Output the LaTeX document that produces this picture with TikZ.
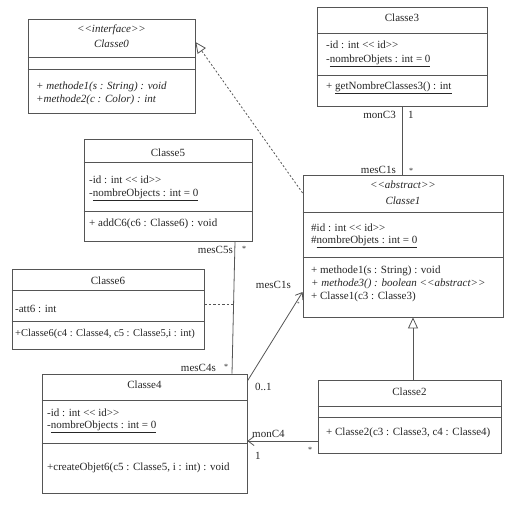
\documentclass[tikz,border=0pt]{standalone}
\usepackage{fontspec}
\setmainfont{Liberation Serif}
\usetikzlibrary{positioning,calc,arrows.meta}
\definecolor{lgray}{HTML}{555555}
\definecolor{tgray}{HTML}{262626}

\begin{document}
\begin{tikzpicture}
	[   x=1pt,y=-1pt,
	    cbox/.style={draw=lgray,line width=0.8pt,rectangle,inner sep=0pt,fill=white},
	    ctxt/.style={inner sep=0pt,text=tgray,font=\fontsize{11}{12}\selectfont},
	    itxt/.style={ctxt,font=\fontsize{11}{12}\selectfont\itshape},
	    small/.style={ctxt,font=\fontsize{10.5}{12}\selectfont},
	]
	\tikzset{normal line/.style={draw=lgray,line width=0.8pt}}
	\tikzset{inherit/.style={normal line,-{Triangle[open,length=11pt,width=10pt]}}}
	\tikzset{assoc/.style={normal line,-{Straight Barb[length=6pt,width=9pt]}}}
	\useasboundingbox (0,0) rectangle (523,505);

	% Classe0
	\node[cbox,minimum width=167pt,minimum height=94pt] (c0) at (111.5,66) {};
	\draw[normal line] (c0.west |- 0,57) -- (c0.east |- 0,57);
	\draw[normal line] (c0.west |- 0,69) -- (c0.east |- 0,69);
	\node[itxt] (c0-s) at (111.5,30) {<{}<interface>{}>};
	\node[itxt] (c0-n) at (111.5,44) {Classe0};
	\node[itxt,anchor=west] (c0-m1) at (36,87) {+ methode1(s : String) : void};
	\node[itxt,anchor=west] (c0-m2) at (36,100) {+methode2(c : Color) : int};

	% Classe3
	\node[cbox,minimum width=170pt,minimum height=99pt] (c3) at (402,56.5) {};
	\draw[normal line] (c3.west |- 0,33) -- (c3.east |- 0,33);
	\draw[normal line] (c3.west |- 0,75) -- (c3.east |- 0,75);
	\node[ctxt] (c3-n) at (402,18) {Classe3};
	\node[ctxt,anchor=west] (c3-a1) at (326,45) {-id : int <{}< id>{}>};
	\node[ctxt,anchor=west] (c3-a2) at (326,61) {-\underline{nombreObjets : int = 0}};
	\node[ctxt,anchor=west] (c3-m1) at (326,88) {+ \underline{getNombreClasses3() : int}};

	% Classe1
	\node[cbox,minimum width=200pt,minimum height=142pt] (c1) at (403,246) {};
	\draw[normal line] (c1.west |- 0,212) -- (c1.east |- 0,212);
	\draw[normal line] (c1.west |- 0,257) -- (c1.east |- 0,257);
	\node[itxt] (c1-s) at (403,185) {<{}<abstract>{}>};
	\node[itxt] (c1-n) at (403,201) {Classe1};
	\node[ctxt,anchor=west] (c1-a1) at (311,228) {\#id : int <{}< id>{}>};
	\node[ctxt,anchor=west] (c1-a2) at (311,242) {\#\underline{nombreObjets : int = 0}};
	\node[ctxt,anchor=west] (c1-m1) at (311,271) {+ methode1(s : String) : void};
	\node[itxt,anchor=west] (c1-m2) at (311,284) {+ methode3() : boolean <{}<abstract>{}>};
	\node[ctxt,anchor=west] (c1-m3) at (311,297) {+ Classe1(c3 : Classe3)};

	% Classe5
	\node[cbox,minimum width=168pt,minimum height=102pt] (c5) at (168,190) {};
	\draw[normal line] (c5.west |- 0,162) -- (c5.east |- 0,162);
	\draw[normal line] (c5.west |- 0,211) -- (c5.east |- 0,211);
	\node[ctxt] (c5-n) at (168,153) {Classe5};
	\node[ctxt,anchor=west] (c5-a1) at (89,180) {-id : int <{}< id>{}>};
	\node[ctxt,anchor=west] (c5-a2) at (89,195) {-\underline{nombreObjects : int = 0}};
	\node[ctxt,anchor=west] (c5-m1) at (89,224) {+ addC6(c6 : Classe6) : void};

	% Classe6
	\node[cbox,minimum width=192pt,minimum height=80pt] (c6) at (108,309) {};
	\draw[normal line] (c6.west |- 0,290) -- (c6.east |- 0,290);
	\draw[normal line] (c6.west |- 0,321) -- (c6.east |- 0,321);
	\node[ctxt] (c6-n) at (108,281) {Classe6};
	\node[ctxt,anchor=west] (c6-a1) at (15,309) {-att6 : int};
	\node[small,anchor=west] (c6-m1) at (15,334) {+Classe6(c4 : Classe4, c5 : Classe5,i : int)};

	% Classe4
	\node[cbox,minimum width=205pt,minimum height=119pt] (c4) at (144.5,433.5) {};
	\draw[normal line] (c4.west |- 0,400) -- (c4.east |- 0,400);
	\draw[normal line] (c4.west |- 0,443) -- (c4.east |- 0,443);
	\node[ctxt] (c4-n) at (144.5,385) {Classe4};
	\node[ctxt,anchor=west] (c4-a1) at (47,413) {-id : int <{}< id>{}>};
	\node[ctxt,anchor=west] (c4-a2) at (47,427) {-\underline{nombreObjects : int = 0}};
	\node[ctxt,anchor=west] (c4-m1) at (47,468) {+createObjet6(c5 : Classe5, i : int) : void};

	% Classe2
	\node[cbox,minimum width=183pt,minimum height=73pt] (c2) at (409.5,416.5) {};
	\draw[normal line] (c2.west |- 0,406) -- (c2.east |- 0,406);
	\draw[normal line] (c2.west |- 0,417) -- (c2.east |- 0,417);
	\node[ctxt] (c2-n) at (409.5,392) {Classe2};
	\node[ctxt,anchor=west] (c2-m1) at (326,433) {+ Classe2(c3 : Classe3, c4 : Classe4)};

	% relations
	\path[normal line] (c3.south) -- (c3.south |- c1.north);
	\node[ctxt,anchor=east] (l-mc3) at (396,115) {monC3};
	\node[ctxt,anchor=west] (l-1a) at (408,115) {1};
	\node[ctxt,anchor=east] (l-mc1a) at (396,170) {mesC1s};
	\node[small,anchor=west,font=\fontsize{8}{9}\selectfont] (l-sa) at (409,171) {*};

	\path[inherit] (c2.north -| 413,0) -- (c1.south -| 413,0);
	\path[inherit,dash pattern=on 2pt off 2pt] (c1.west |- 0,193) -- (c0.east |- 0,42);

	\coordinate (j6) at (233.5,304);
	\path[normal line] (c5.south -| 235,0) -- (c4.north -| 232,0);
	\path[normal line,dash pattern=on 2.5pt off 2pt] (c6.east |- j6) -- (j6);
	\node[ctxt,anchor=east] (l-mc5) at (233,250) {mesC5s};
	\node[small,anchor=west,font=\fontsize{8}{9}\selectfont] (l-sb) at (242,249) {*};
	\node[ctxt,anchor=east] (l-mc4a) at (216,368) {mesC4s};
	\node[small,anchor=west,font=\fontsize{8}{9}\selectfont] (l-sc) at (224,367) {*};

	\path[assoc] (c4.east |- 0,381) -- (c1.west |- 0,292);
	\node[ctxt,anchor=east] (l-mc1b) at (291,285) {mesC1s};
	\node[ctxt,anchor=west] (l-01) at (255,387) {0..1};
	\node[small,anchor=west,font=\fontsize{5}{6}\selectfont] (l-sd) at (297,304) {*};

	\path[assoc] (c2.west |- 0,441) -- (c4.east |- 0,441);
	\node[ctxt,anchor=west] (l-mc4b) at (252,434) {monC4};
	\node[ctxt,anchor=west] (l-1b) at (255,456) {1};
	\node[small,anchor=west,font=\fontsize{8}{9}\selectfont] (l-se) at (308,450) {*};
\end{tikzpicture}
\end{document}
